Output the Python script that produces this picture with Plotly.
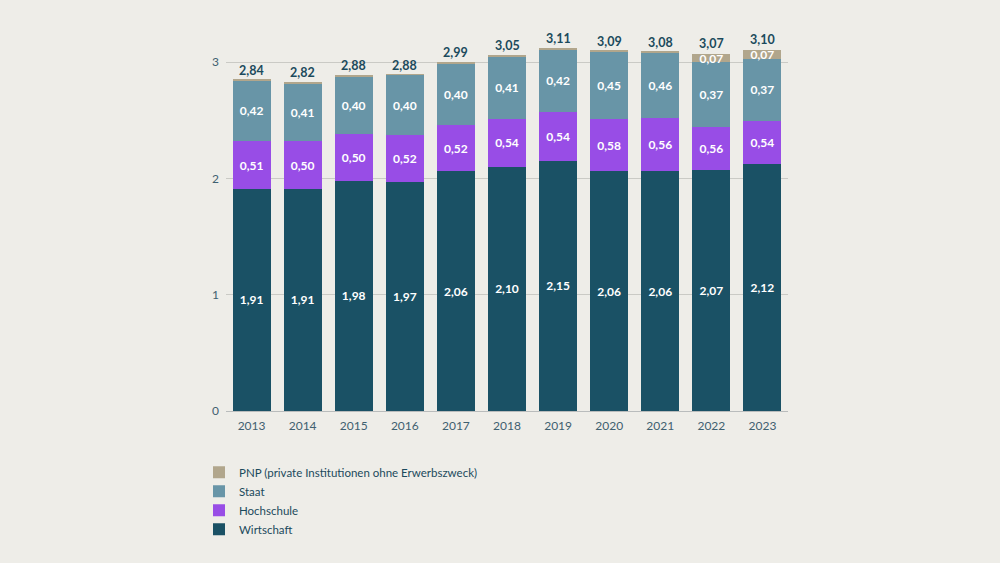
import plotly.graph_objects as go

years = ["2013", "2014", "2015", "2016", "2017", "2018", "2019", "2020", "2021", "2022", "2023"]
# segment heights as drawn in the picture
wirtschaft = [1.91, 1.91, 1.98, 1.97, 2.06, 2.10, 2.15, 2.06, 2.06, 2.07, 2.12]
hochschule_drawn = [0.41, 0.41, 0.40, 0.40, 0.40, 0.41, 0.42, 0.45, 0.46, 0.37, 0.37]
staat_drawn = [0.52, 0.50, 0.50, 0.52, 0.53, 0.54, 0.54, 0.58, 0.56, 0.56, 0.54]
pnp = [0.007, 0.007, 0.007, 0.007, 0.007, 0.007, 0.007, 0.007, 0.007, 0.07, 0.07]
# labels as printed in the picture
wirtschaft_labels = ["1,91", "1,91", "1,98", "1,97", "2,06", "2,10", "2,15", "2,06", "2,06", "2,07", "2,12"]
hochschule_labels = ["0,51", "0,50", "0,50", "0,52", "0,52", "0,54", "0,54", "0,58", "0,56", "0,56", "0,54"]
staat_labels = ["0,42", "0,41", "0,40", "0,40", "0,40", "0,41", "0,42", "0,45", "0,46", "0,37", "0,37"]
pnp_labels = ["", "", "", "", "", "", "", "", "", "0,07", "0,07"]
totals = [2.84, 2.82, 2.88, 2.88, 2.99, 3.05, 3.11, 3.09, 3.08, 3.07, 3.10]
total_labels = ["2,84", "2,82", "2,88", "2,88", "2,99", "3,05", "3,11", "3,09", "3,08", "3,07", "3,10"]

FONT = "Lato"
TEXT_DARK = "#1b4a5c"
BG = "#eeede8"

fig = go.Figure()
series = [
    ("Wirtschaft", wirtschaft, "#1a5165", wirtschaft_labels),
    ("Hochschule", hochschule_drawn, "#984de6", hochschule_labels),
    ("Staat", staat_drawn, "#6895a7", staat_labels),
    ("PNP (private Institutionen ohne Erwerbszweck)", pnp, "#b1a68c", pnp_labels),
]
for name, vals, color, labels in series:
    fig.add_trace(go.Bar(
        x=years, y=vals, name=name, marker=dict(color=color, line=dict(width=0)),
        text=labels, textposition="inside", insidetextanchor="middle", textangle=0,
        constraintext="none",
        insidetextfont=dict(family=FONT, size=12, color="white", weight="bold"),
        textfont=dict(family=FONT, size=12, color="white", weight="bold"),
        hoverinfo="x+name+text", cliponaxis=False,
    ))

# category axis: annotation x is the category index
for i, (tot, lab) in enumerate(zip(totals, total_labels)):
    fig.add_annotation(
        x=i, y=tot, text=lab, showarrow=False, xref="x", yref="y",
        yanchor="bottom", yshift=1,
        font=dict(family=FONT, size=12.5, color=TEXT_DARK, weight="bold"),
    )

fig.update_layout(
    barmode="stack", bargap=0.255,
    width=1000, height=563,
    paper_bgcolor=BG, plot_bgcolor=BG,
    margin=dict(l=226, r=212, t=33, b=152, autoexpand=False),
    uniformtext=dict(minsize=12, mode="show"),
    font=dict(family=FONT, size=12, color="#3f6070"),
    xaxis=dict(type="category", showgrid=False, showline=False, ticks="", tickangle=0,
               ticklabelstandoff=6, tickfont=dict(size=12, color="#3f6070")),
    yaxis=dict(range=[0, 3.25], tickvals=[0, 1, 2, 3], ticktext=["0", "1", "2", "3"],
               showgrid=True, gridcolor="#cacac5", gridwidth=1, zeroline=True,
               zerolinecolor="#b9bcbc", zerolinewidth=1, ticks="", ticklabelstandoff=6,
               tickfont=dict(size=12, color="#3f6070")),
    legend=dict(traceorder="reversed", xref="container", yref="container",
                x=0.199, y=0.187, xanchor="left", yanchor="top",
                bgcolor="rgba(0,0,0,0)", font=dict(family=FONT, size=11.5, color=TEXT_DARK),
                itemclick=False, tracegroupgap=0),
    showlegend=True,
)

fig.write_html("out.html")
